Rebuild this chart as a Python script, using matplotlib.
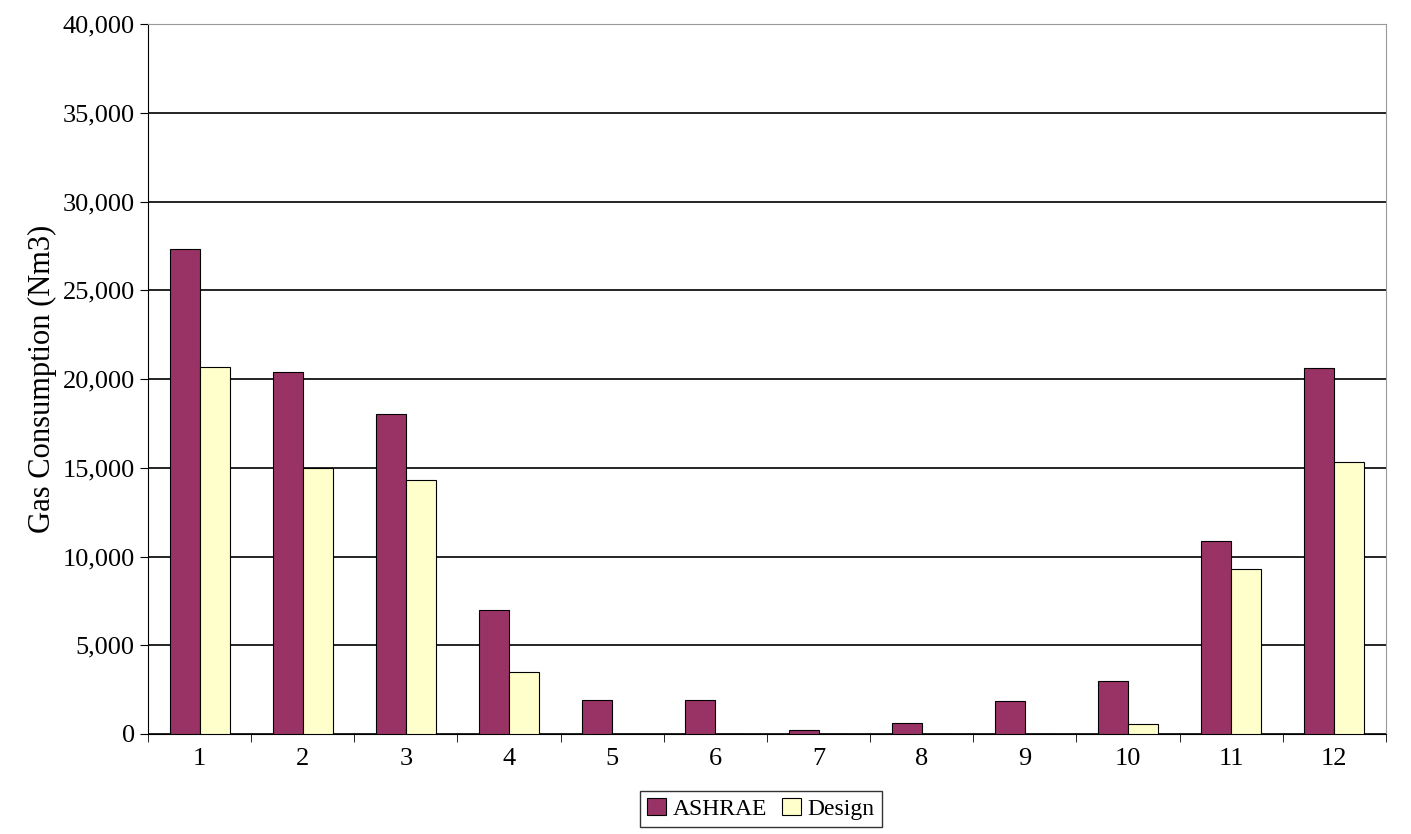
import numpy as np
import matplotlib.pyplot as plt

plt.rcParams['font.family'] = ['Liberation Serif', 'DejaVu Serif']

months = [str(i) for i in range(1, 13)]
ashrae = [27300, 20400, 18000, 7000, 1900, 1900, 250, 600, 1850, 3000, 10900, 20600]
design = [20700, 15000, 14300, 3500, 0, 0, 0, 0, 0, 550, 9300, 15300]

fig = plt.figure(figsize=(14.11, 8.34), dpi=100)
ax = fig.add_axes([148/1411, 1-734/834, (1386-148)/1411, (734-24)/834])

x = np.arange(len(months))
w = 0.29
ax.bar(x - w/2, ashrae, w, color='#993366', edgecolor='black', linewidth=0.8, label='ASHRAE', zorder=3)
ax.bar(x + w/2, design, w, color='#FFFFCC', edgecolor='black', linewidth=0.8, label='Design', zorder=3)

ax.set_xlim(-0.5, len(months) - 0.5)
ax.set_ylim(0, 40000)
ax.set_yticks(range(0, 40001, 5000))
ax.set_yticklabels([f'{v:,}' for v in range(0, 40001, 5000)], fontsize=19)
ax.set_xticks(x)
ax.set_xticklabels(months, fontsize=19)
ax.tick_params(axis='x', length=0, pad=10)
ax.tick_params(axis='y', direction='out', length=6)
ax.set_xticks(np.arange(-0.5, len(months)), minor=True)
ax.tick_params(axis='x', which='minor', length=6, direction='out')
ax.grid(axis='y', color='black', linewidth=1.2, zorder=0)
for s in ['top', 'right']:
    ax.spines[s].set_color('#999999')
ax.set_ylabel('Gas Consumption (Nm3)', fontsize=22)

fig.legend(loc='center', bbox_to_anchor=(761/1411, 1-809/834), ncol=2, fontsize=17,
           frameon=True, fancybox=False, edgecolor='black', handlelength=0.8,
           handletextpad=0.3, columnspacing=0.6, borderpad=0.3)

fig.savefig('out.png', dpi=100)
